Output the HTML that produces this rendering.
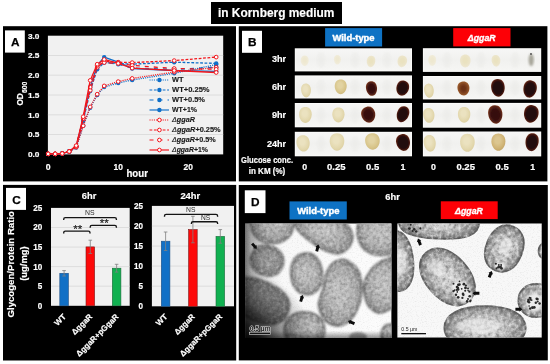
<!DOCTYPE html>
<html lang="en"><head><meta charset="utf-8"><title>in Kornberg medium</title>
<style>html,body{margin:0;padding:0;background:#fff;}body{width:550px;height:364px;overflow:hidden;}svg{display:block;}text{font-family:"Liberation Sans", sans-serif;}</style></head><body>
<svg width="550" height="364" viewBox="0 0 550 364">
<defs>
<filter id="b05" x="-20%" y="-20%" width="140%" height="140%"><feGaussianBlur stdDeviation="0.55"/></filter>
<filter id="b1" x="-20%" y="-20%" width="140%" height="140%"><feGaussianBlur stdDeviation="1"/></filter>
<filter id="b3" x="-30%" y="-30%" width="160%" height="160%"><feGaussianBlur stdDeviation="3"/></filter>
<filter id="cellF" x="-5%" y="-5%" width="110%" height="110%" color-interpolation-filters="sRGB">
  <feGaussianBlur in="SourceGraphic" stdDeviation="0.8" result="blur"/>
  <feTurbulence type="fractalNoise" baseFrequency="0.3" numOctaves="2" seed="4" result="n"/>
  <feColorMatrix in="n" type="matrix" values="1 0 0 0 0  1 0 0 0 0  1 0 0 0 0  1 0 0 0 0" result="g"/>
  <feComponentTransfer in="g" result="bw">
    <feFuncR type="discrete" tableValues="0.25 1"/><feFuncG type="discrete" tableValues="0.25 1"/><feFuncB type="discrete" tableValues="0.25 1"/>
    <feFuncA type="table" tableValues="0.42 0 0.5"/>
  </feComponentTransfer>
  <feComposite in="bw" in2="blur" operator="in" result="m"/>
  <feMerge><feMergeNode in="blur"/><feMergeNode in="m"/></feMerge>
</filter>
<filter id="cellF2" x="-5%" y="-5%" width="110%" height="110%" color-interpolation-filters="sRGB">
  <feGaussianBlur in="SourceGraphic" stdDeviation="0.7" result="blur"/>
  <feTurbulence type="fractalNoise" baseFrequency="0.26" numOctaves="3" seed="9" result="n"/>
  <feColorMatrix in="n" type="matrix" values="1 0 0 0 0  1 0 0 0 0  1 0 0 0 0  1 0 0 0 0" result="g"/>
  <feComponentTransfer in="g" result="bw">
    <feFuncR type="discrete" tableValues="0.3 1"/><feFuncG type="discrete" tableValues="0.3 1"/><feFuncB type="discrete" tableValues="0.3 1"/>
    <feFuncA type="table" tableValues="0.7 0 0.9"/>
  </feComponentTransfer>
  <feComposite in="bw" in2="blur" operator="in" result="m"/>
  <feMerge><feMergeNode in="blur"/><feMergeNode in="m"/></feMerge>
</filter>
<filter id="grain" x="0" y="0" width="100%" height="100%" color-interpolation-filters="sRGB">
  <feTurbulence type="fractalNoise" baseFrequency="0.8" numOctaves="2" seed="11" result="n"/>
  <feColorMatrix in="n" type="matrix" values="1 0 0 0 0  1 0 0 0 0  1 0 0 0 0  1 0 0 0 0" result="g"/>
  <feComponentTransfer in="g">
    <feFuncR type="discrete" tableValues="0 1"/><feFuncG type="discrete" tableValues="0 1"/><feFuncB type="discrete" tableValues="0 1"/>
    <feFuncA type="table" tableValues="0.09 0 0.05"/>
  </feComponentTransfer>
</filter>
<radialGradient id="cgL" cx="50%" cy="50%" r="50%"><stop offset="0" stop-color="#bebebe"/><stop offset="0.30" stop-color="#bebebe"/><stop offset="0.6" stop-color="#b2b2b2"/><stop offset="0.86" stop-color="#a0a0a0"/><stop offset="1" stop-color="#8a8a8a"/></radialGradient>
<radialGradient id="cgLd" cx="50%" cy="50%" r="50%"><stop offset="0" stop-color="#a2a2a2"/><stop offset="0.30" stop-color="#a2a2a2"/><stop offset="0.6" stop-color="#989898"/><stop offset="0.88" stop-color="#888888"/><stop offset="1" stop-color="#787878"/></radialGradient>
<radialGradient id="cgR" cx="50%" cy="50%" r="50%"><stop offset="0" stop-color="#d2d2d2"/><stop offset="0.28" stop-color="#d2d2d2"/><stop offset="0.55" stop-color="#bebebe"/><stop offset="0.85" stop-color="#9c9c9c"/><stop offset="1" stop-color="#7c7c7c"/></radialGradient>
<linearGradient id="bgL" x1="0" y1="0" x2="1" y2="0">
  <stop offset="0" stop-color="#e0e0e0"/><stop offset="0.18" stop-color="#f8f8f8"/><stop offset="1" stop-color="#fcfcfc"/>
</linearGradient>
<linearGradient id="vigL" x1="0" y1="0" x2="1" y2="0">
  <stop offset="0" stop-color="#000" stop-opacity="0.5"/><stop offset="0.04" stop-color="#000" stop-opacity="0.28"/><stop offset="0.12" stop-color="#000" stop-opacity="0.08"/><stop offset="0.25" stop-color="#000" stop-opacity="0"/>
</linearGradient>
<radialGradient id="vigBL" gradientUnits="userSpaceOnUse" cx="240" cy="346" r="75">
  <stop offset="0" stop-color="#000" stop-opacity="0.95"/><stop offset="0.3" stop-color="#000" stop-opacity="0.8"/><stop offset="0.6" stop-color="#000" stop-opacity="0.38"/><stop offset="1" stop-color="#000" stop-opacity="0"/>
</radialGradient>
<linearGradient id="vigB" x1="0" y1="0" x2="0" y2="1">
  <stop offset="0" stop-color="#000" stop-opacity="0"/><stop offset="0.93" stop-color="#000" stop-opacity="0"/><stop offset="1" stop-color="#000" stop-opacity="0.5"/>
</linearGradient>
<linearGradient id="strip" x1="0" y1="0" x2="0" y2="1">
  <stop offset="0" stop-color="#f6f6f5"/><stop offset="0.5" stop-color="#f1f1ef"/><stop offset="1" stop-color="#f6f6f4"/>
</linearGradient>
<radialGradient id="gDark" cx="50%" cy="50%" r="50%"><stop offset="0" stop-color="#341010"/><stop offset="0.60" stop-color="#381110"/><stop offset="0.9" stop-color="#5e2618"/><stop offset="1" stop-color="#7a3a22"/></radialGradient>
<radialGradient id="gVDark" cx="50%" cy="50%" r="50%"><stop offset="0" stop-color="#230808"/><stop offset="0.68" stop-color="#230808"/><stop offset="0.92" stop-color="#4a1a12"/><stop offset="1" stop-color="#6a2e1c"/></radialGradient>
<radialGradient id="gDBrown" cx="45%" cy="45%" r="60%"><stop offset="0" stop-color="#6a3026"/><stop offset="0.30" stop-color="#6a3026"/><stop offset="0.6" stop-color="#55211b"/><stop offset="1" stop-color="#3a1210"/></radialGradient>
<radialGradient id="gBrown" cx="50%" cy="50%" r="50%"><stop offset="0" stop-color="#6c3216"/><stop offset="0.30" stop-color="#6c3216"/><stop offset="0.6" stop-color="#7c401e"/><stop offset="1" stop-color="#9c5c2e"/></radialGradient>
<radialGradient id="gTan" cx="45%" cy="40%" r="60%"><stop offset="0" stop-color="#e2d3a2"/><stop offset="0.30" stop-color="#e2d3a2"/><stop offset="0.75" stop-color="#d8c58a"/><stop offset="1" stop-color="#d0bb80"/></radialGradient>
<radialGradient id="gTan2" cx="45%" cy="40%" r="60%"><stop offset="0" stop-color="#dcc690"/><stop offset="0.30" stop-color="#dcc690"/><stop offset="0.75" stop-color="#d0b476"/><stop offset="1" stop-color="#c4a668"/></radialGradient>
<radialGradient id="gCream" cx="45%" cy="40%" r="60%"><stop offset="0" stop-color="#ebe2c0"/><stop offset="0.30" stop-color="#ebe2c0"/><stop offset="0.75" stop-color="#e3d8ae"/><stop offset="1" stop-color="#ddd0a2"/></radialGradient>
<radialGradient id="gPale" cx="50%" cy="45%" r="60%"><stop offset="0" stop-color="#eee8d0"/><stop offset="0.30" stop-color="#eee8d0"/><stop offset="0.7" stop-color="#f0ebd8"/><stop offset="1" stop-color="#f2efe2"/></radialGradient>
<radialGradient id="gPale2" cx="50%" cy="45%" r="60%"><stop offset="0" stop-color="#eae2c0"/><stop offset="0.30" stop-color="#eae2c0"/><stop offset="0.7" stop-color="#ece5ca"/><stop offset="1" stop-color="#f0ead8"/></radialGradient>
<clipPath id="clipL"><rect x="245.1" y="223.4" width="146.3" height="114.7"/></clipPath>
<clipPath id="clipR"><rect x="397.4" y="223.6" width="144.3" height="114"/></clipPath>
</defs>
<rect width="550" height="364" fill="#fff"/>
<rect x="211" y="2" width="131" height="22" fill="#000"/>
<text x="276.2" y="17.1" font-size="12.4" fill="#fff" font-weight="bold" text-anchor="middle" stroke="#fff" stroke-width="0.18" textLength="116.5" lengthAdjust="spacingAndGlyphs" >in Kornberg medium</text>
<rect x="3" y="26.2" width="233" height="155.2" fill="#000"/>
<rect x="238.8" y="26.2" width="308.6" height="155.2" fill="#000"/>
<rect x="3" y="184.9" width="233.2" height="175.6" fill="#000"/>
<rect x="238.8" y="185.0" width="309" height="175.4" fill="#000"/>
<rect x="5" y="30.4" width="19.8" height="22.2" fill="#fff"/>
<text x="15.2" y="45.9" font-size="11.8" fill="#000" font-weight="bold" text-anchor="middle" stroke="#000" stroke-width="0.25">A</text>
<rect x="242" y="30.8" width="20.0" height="22.0" fill="#fff"/>
<text x="252.3" y="45.9" font-size="11.8" fill="#000" font-weight="bold" text-anchor="middle" stroke="#000" stroke-width="0.25">B</text>
<rect x="6" y="187.9" width="20.0" height="22.0" fill="#fff"/>
<text x="16.4" y="203.6" font-size="11.8" fill="#000" font-weight="bold" text-anchor="middle" stroke="#000" stroke-width="0.25">C</text>
<rect x="244.8" y="190.3" width="20.7" height="22.8" fill="#fff"/>
<text x="255.3" y="205.9" font-size="11.8" fill="#000" font-weight="bold" text-anchor="middle" stroke="#000" stroke-width="0.25">D</text>
<rect x="47.9" y="35.7" width="175.29999999999998" height="118.7" fill="#f1f1f1"/>
<line x1="47.9" x2="223.2" y1="134.5" y2="134.5" stroke="#d8d8d8" stroke-width="0.8"/>
<line x1="47.9" x2="223.2" y1="114.8" y2="114.8" stroke="#d8d8d8" stroke-width="0.8"/>
<line x1="47.9" x2="223.2" y1="95.0" y2="95.0" stroke="#d8d8d8" stroke-width="0.8"/>
<line x1="47.9" x2="223.2" y1="75.2" y2="75.2" stroke="#d8d8d8" stroke-width="0.8"/>
<line x1="47.9" x2="223.2" y1="55.5" y2="55.5" stroke="#d8d8d8" stroke-width="0.8"/>
<text x="33.7" y="157.2" font-size="8.0" fill="#fff" font-weight="bold" text-anchor="middle" stroke="#fff" stroke-width="0.18" textLength="11.5" lengthAdjust="spacingAndGlyphs" >0.0</text>
<text x="33.7" y="137.4" font-size="8.0" fill="#fff" font-weight="bold" text-anchor="middle" stroke="#fff" stroke-width="0.18" textLength="11.5" lengthAdjust="spacingAndGlyphs" >0.5</text>
<text x="33.7" y="117.7" font-size="8.0" fill="#fff" font-weight="bold" text-anchor="middle" stroke="#fff" stroke-width="0.18" textLength="11.5" lengthAdjust="spacingAndGlyphs" >1.0</text>
<text x="33.7" y="97.9" font-size="8.0" fill="#fff" font-weight="bold" text-anchor="middle" stroke="#fff" stroke-width="0.18" textLength="11.5" lengthAdjust="spacingAndGlyphs" >1.5</text>
<text x="33.7" y="78.1" font-size="8.0" fill="#fff" font-weight="bold" text-anchor="middle" stroke="#fff" stroke-width="0.18" textLength="11.5" lengthAdjust="spacingAndGlyphs" >2.0</text>
<text x="33.7" y="58.4" font-size="8.0" fill="#fff" font-weight="bold" text-anchor="middle" stroke="#fff" stroke-width="0.18" textLength="11.5" lengthAdjust="spacingAndGlyphs" >2.5</text>
<text x="33.7" y="38.6" font-size="8.0" fill="#fff" font-weight="bold" text-anchor="middle" stroke="#fff" stroke-width="0.18" textLength="11.5" lengthAdjust="spacingAndGlyphs" >3.0</text>
<text x="48.2" y="169.5" font-size="8.7" fill="#fff" font-weight="bold" text-anchor="middle" stroke="#fff" stroke-width="0.18" >0</text>
<text x="118.2" y="169.5" font-size="8.7" fill="#fff" font-weight="bold" text-anchor="middle" stroke="#fff" stroke-width="0.18" textLength="9.4" lengthAdjust="spacingAndGlyphs" >10</text>
<text x="188.2" y="169.5" font-size="8.7" fill="#fff" font-weight="bold" text-anchor="middle" stroke="#fff" stroke-width="0.18" textLength="9.4" lengthAdjust="spacingAndGlyphs" >20</text>
<text x="137.2" y="177.4" font-size="10.4" fill="#fff" font-weight="bold" text-anchor="middle" stroke="#fff" stroke-width="0.18" textLength="21.5" lengthAdjust="spacingAndGlyphs" >hour</text>
<text x="22.9" y="105.6" font-size="9.1" fill="#fff" font-weight="bold" text-anchor="start" stroke="#fff" stroke-width="0.18" textLength="12.4" lengthAdjust="spacingAndGlyphs" transform="rotate(-90 22.9 105.6)" >OD</text>
<text x="26.6" y="93.0" font-size="6.3" fill="#fff" font-weight="bold" text-anchor="start" stroke="#fff" stroke-width="0.18" textLength="11.4" lengthAdjust="spacingAndGlyphs" transform="rotate(-90 26.6 93.0)" >600</text>
<g>
<polyline points="48.2,153.9 55.2,153.9 62.2,153.5 69.2,151.5 76.2,147.6 83.2,125.8 90.2,107.7 97.2,95.0 104.2,87.1 118.2,83.1 132.2,80.0 174.2,73.3 216.2,64.6" fill="none" stroke="#0f6fc8" stroke-width="1.3" stroke-dasharray="1.1 1.1" stroke-linejoin="round"/>
<circle cx="48.2" cy="153.9" r="2.2" fill="#0f6fc8"/>
<circle cx="55.2" cy="153.9" r="2.2" fill="#0f6fc8"/>
<circle cx="62.2" cy="153.5" r="2.2" fill="#0f6fc8"/>
<circle cx="69.2" cy="151.5" r="2.2" fill="#0f6fc8"/>
<circle cx="76.2" cy="147.6" r="2.2" fill="#0f6fc8"/>
<circle cx="83.2" cy="125.8" r="2.2" fill="#0f6fc8"/>
<circle cx="90.2" cy="107.7" r="2.2" fill="#0f6fc8"/>
<circle cx="97.2" cy="95.0" r="2.2" fill="#0f6fc8"/>
<circle cx="104.2" cy="87.1" r="2.2" fill="#0f6fc8"/>
<circle cx="118.2" cy="83.1" r="2.2" fill="#0f6fc8"/>
<circle cx="132.2" cy="80.0" r="2.2" fill="#0f6fc8"/>
<circle cx="174.2" cy="73.3" r="2.2" fill="#0f6fc8"/>
<circle cx="216.2" cy="64.6" r="2.2" fill="#0f6fc8"/>
<polyline points="48.2,153.9 55.2,153.9 62.2,153.5 69.2,151.5 76.2,146.4 83.2,120.7 90.2,91.1 97.2,69.3 104.2,62.6 118.2,63.4 132.2,64.2 174.2,62.2 216.2,63.4" fill="none" stroke="#0f6fc8" stroke-width="1.3" stroke-dasharray="2.8 1.6" stroke-linejoin="round"/>
<circle cx="48.2" cy="153.9" r="2.2" fill="#0f6fc8"/>
<circle cx="55.2" cy="153.9" r="2.2" fill="#0f6fc8"/>
<circle cx="62.2" cy="153.5" r="2.2" fill="#0f6fc8"/>
<circle cx="69.2" cy="151.5" r="2.2" fill="#0f6fc8"/>
<circle cx="76.2" cy="146.4" r="2.2" fill="#0f6fc8"/>
<circle cx="83.2" cy="120.7" r="2.2" fill="#0f6fc8"/>
<circle cx="90.2" cy="91.1" r="2.2" fill="#0f6fc8"/>
<circle cx="97.2" cy="69.3" r="2.2" fill="#0f6fc8"/>
<circle cx="104.2" cy="62.6" r="2.2" fill="#0f6fc8"/>
<circle cx="118.2" cy="63.4" r="2.2" fill="#0f6fc8"/>
<circle cx="132.2" cy="64.2" r="2.2" fill="#0f6fc8"/>
<circle cx="174.2" cy="62.2" r="2.2" fill="#0f6fc8"/>
<circle cx="216.2" cy="63.4" r="2.2" fill="#0f6fc8"/>
<polyline points="48.2,153.9 55.2,153.9 62.2,153.5 69.2,151.5 76.2,146.4 83.2,118.7 90.2,89.1 97.2,67.3 104.2,62.2 118.2,64.2 132.2,68.1 174.2,69.3 216.2,67.3" fill="none" stroke="#0f6fc8" stroke-width="1.3" stroke-dasharray="4 5" stroke-linejoin="round"/>
<circle cx="48.2" cy="153.9" r="2.2" fill="#0f6fc8"/>
<circle cx="55.2" cy="153.9" r="2.2" fill="#0f6fc8"/>
<circle cx="62.2" cy="153.5" r="2.2" fill="#0f6fc8"/>
<circle cx="69.2" cy="151.5" r="2.2" fill="#0f6fc8"/>
<circle cx="76.2" cy="146.4" r="2.2" fill="#0f6fc8"/>
<circle cx="83.2" cy="118.7" r="2.2" fill="#0f6fc8"/>
<circle cx="90.2" cy="89.1" r="2.2" fill="#0f6fc8"/>
<circle cx="97.2" cy="67.3" r="2.2" fill="#0f6fc8"/>
<circle cx="104.2" cy="62.2" r="2.2" fill="#0f6fc8"/>
<circle cx="118.2" cy="64.2" r="2.2" fill="#0f6fc8"/>
<circle cx="132.2" cy="68.1" r="2.2" fill="#0f6fc8"/>
<circle cx="174.2" cy="69.3" r="2.2" fill="#0f6fc8"/>
<circle cx="216.2" cy="67.3" r="2.2" fill="#0f6fc8"/>
<polyline points="48.2,153.9 55.2,153.9 62.2,153.5 69.2,151.5 76.2,146.4 83.2,118.7 90.2,87.1 97.2,65.4 104.2,57.1 118.2,62.2 132.2,68.5 174.2,70.5 216.2,71.3" fill="none" stroke="#0f6fc8" stroke-width="1.3" stroke-linejoin="round"/>
<circle cx="48.2" cy="153.9" r="2.2" fill="#0f6fc8"/>
<circle cx="55.2" cy="153.9" r="2.2" fill="#0f6fc8"/>
<circle cx="62.2" cy="153.5" r="2.2" fill="#0f6fc8"/>
<circle cx="69.2" cy="151.5" r="2.2" fill="#0f6fc8"/>
<circle cx="76.2" cy="146.4" r="2.2" fill="#0f6fc8"/>
<circle cx="83.2" cy="118.7" r="2.2" fill="#0f6fc8"/>
<circle cx="90.2" cy="87.1" r="2.2" fill="#0f6fc8"/>
<circle cx="97.2" cy="65.4" r="2.2" fill="#0f6fc8"/>
<circle cx="104.2" cy="57.1" r="2.2" fill="#0f6fc8"/>
<circle cx="118.2" cy="62.2" r="2.2" fill="#0f6fc8"/>
<circle cx="132.2" cy="68.5" r="2.2" fill="#0f6fc8"/>
<circle cx="174.2" cy="70.5" r="2.2" fill="#0f6fc8"/>
<circle cx="216.2" cy="71.3" r="2.2" fill="#0f6fc8"/>
<polyline points="48.2,153.9 55.2,153.9 62.2,153.5 69.2,151.5 76.2,147.2 83.2,125.8 90.2,106.9 97.2,94.2 104.2,85.9 118.2,81.6 132.2,78.4 174.2,72.1 216.2,67.3" fill="none" stroke="#f2161c" stroke-width="1.3" stroke-dasharray="1.1 1.1" stroke-linejoin="round"/>
<circle cx="48.2" cy="153.9" r="1.85" fill="#fff" stroke="#f2161c" stroke-width="1"/>
<circle cx="55.2" cy="153.9" r="1.85" fill="#fff" stroke="#f2161c" stroke-width="1"/>
<circle cx="62.2" cy="153.5" r="1.85" fill="#fff" stroke="#f2161c" stroke-width="1"/>
<circle cx="69.2" cy="151.5" r="1.85" fill="#fff" stroke="#f2161c" stroke-width="1"/>
<circle cx="76.2" cy="147.2" r="1.85" fill="#fff" stroke="#f2161c" stroke-width="1"/>
<circle cx="83.2" cy="125.8" r="1.85" fill="#fff" stroke="#f2161c" stroke-width="1"/>
<circle cx="90.2" cy="106.9" r="1.85" fill="#fff" stroke="#f2161c" stroke-width="1"/>
<circle cx="97.2" cy="94.2" r="1.85" fill="#fff" stroke="#f2161c" stroke-width="1"/>
<circle cx="104.2" cy="85.9" r="1.85" fill="#fff" stroke="#f2161c" stroke-width="1"/>
<circle cx="118.2" cy="81.6" r="1.85" fill="#fff" stroke="#f2161c" stroke-width="1"/>
<circle cx="132.2" cy="78.4" r="1.85" fill="#fff" stroke="#f2161c" stroke-width="1"/>
<circle cx="174.2" cy="72.1" r="1.85" fill="#fff" stroke="#f2161c" stroke-width="1"/>
<circle cx="216.2" cy="67.3" r="1.85" fill="#fff" stroke="#f2161c" stroke-width="1"/>
<polyline points="48.2,153.9 55.2,153.9 62.2,153.5 69.2,151.5 76.2,146.4 83.2,117.9 90.2,90.3 97.2,67.3 104.2,61.4 118.2,62.2 132.2,62.6 174.2,60.6 216.2,57.1" fill="none" stroke="#f2161c" stroke-width="1.3" stroke-dasharray="2.8 1.6" stroke-linejoin="round"/>
<circle cx="48.2" cy="153.9" r="1.85" fill="#fff" stroke="#f2161c" stroke-width="1"/>
<circle cx="55.2" cy="153.9" r="1.85" fill="#fff" stroke="#f2161c" stroke-width="1"/>
<circle cx="62.2" cy="153.5" r="1.85" fill="#fff" stroke="#f2161c" stroke-width="1"/>
<circle cx="69.2" cy="151.5" r="1.85" fill="#fff" stroke="#f2161c" stroke-width="1"/>
<circle cx="76.2" cy="146.4" r="1.85" fill="#fff" stroke="#f2161c" stroke-width="1"/>
<circle cx="83.2" cy="117.9" r="1.85" fill="#fff" stroke="#f2161c" stroke-width="1"/>
<circle cx="90.2" cy="90.3" r="1.85" fill="#fff" stroke="#f2161c" stroke-width="1"/>
<circle cx="97.2" cy="67.3" r="1.85" fill="#fff" stroke="#f2161c" stroke-width="1"/>
<circle cx="104.2" cy="61.4" r="1.85" fill="#fff" stroke="#f2161c" stroke-width="1"/>
<circle cx="118.2" cy="62.2" r="1.85" fill="#fff" stroke="#f2161c" stroke-width="1"/>
<circle cx="132.2" cy="62.6" r="1.85" fill="#fff" stroke="#f2161c" stroke-width="1"/>
<circle cx="174.2" cy="60.6" r="1.85" fill="#fff" stroke="#f2161c" stroke-width="1"/>
<circle cx="216.2" cy="57.1" r="1.85" fill="#fff" stroke="#f2161c" stroke-width="1"/>
<polyline points="48.2,153.9 55.2,153.9 62.2,153.5 69.2,151.5 76.2,146.4 83.2,118.7 90.2,87.1 97.2,65.4 104.2,62.6 118.2,63.4 132.2,65.4 174.2,68.5 216.2,69.3" fill="none" stroke="#f2161c" stroke-width="1.3" stroke-dasharray="4 5" stroke-linejoin="round"/>
<circle cx="48.2" cy="153.9" r="1.85" fill="#fff" stroke="#f2161c" stroke-width="1"/>
<circle cx="55.2" cy="153.9" r="1.85" fill="#fff" stroke="#f2161c" stroke-width="1"/>
<circle cx="62.2" cy="153.5" r="1.85" fill="#fff" stroke="#f2161c" stroke-width="1"/>
<circle cx="69.2" cy="151.5" r="1.85" fill="#fff" stroke="#f2161c" stroke-width="1"/>
<circle cx="76.2" cy="146.4" r="1.85" fill="#fff" stroke="#f2161c" stroke-width="1"/>
<circle cx="83.2" cy="118.7" r="1.85" fill="#fff" stroke="#f2161c" stroke-width="1"/>
<circle cx="90.2" cy="87.1" r="1.85" fill="#fff" stroke="#f2161c" stroke-width="1"/>
<circle cx="97.2" cy="65.4" r="1.85" fill="#fff" stroke="#f2161c" stroke-width="1"/>
<circle cx="104.2" cy="62.6" r="1.85" fill="#fff" stroke="#f2161c" stroke-width="1"/>
<circle cx="118.2" cy="63.4" r="1.85" fill="#fff" stroke="#f2161c" stroke-width="1"/>
<circle cx="132.2" cy="65.4" r="1.85" fill="#fff" stroke="#f2161c" stroke-width="1"/>
<circle cx="174.2" cy="68.5" r="1.85" fill="#fff" stroke="#f2161c" stroke-width="1"/>
<circle cx="216.2" cy="69.3" r="1.85" fill="#fff" stroke="#f2161c" stroke-width="1"/>
<polyline points="48.2,153.9 55.2,153.9 62.2,153.5 69.2,151.5 76.2,145.6 83.2,116.7 90.2,80.4 97.2,64.2 104.2,59.4 118.2,63.4 132.2,68.1 174.2,70.5 216.2,72.5" fill="none" stroke="#f2161c" stroke-width="1.3" stroke-linejoin="round"/>
<circle cx="48.2" cy="153.9" r="1.85" fill="#fff" stroke="#f2161c" stroke-width="1"/>
<circle cx="55.2" cy="153.9" r="1.85" fill="#fff" stroke="#f2161c" stroke-width="1"/>
<circle cx="62.2" cy="153.5" r="1.85" fill="#fff" stroke="#f2161c" stroke-width="1"/>
<circle cx="69.2" cy="151.5" r="1.85" fill="#fff" stroke="#f2161c" stroke-width="1"/>
<circle cx="76.2" cy="145.6" r="1.85" fill="#fff" stroke="#f2161c" stroke-width="1"/>
<circle cx="83.2" cy="116.7" r="1.85" fill="#fff" stroke="#f2161c" stroke-width="1"/>
<circle cx="90.2" cy="80.4" r="1.85" fill="#fff" stroke="#f2161c" stroke-width="1"/>
<circle cx="97.2" cy="64.2" r="1.85" fill="#fff" stroke="#f2161c" stroke-width="1"/>
<circle cx="104.2" cy="59.4" r="1.85" fill="#fff" stroke="#f2161c" stroke-width="1"/>
<circle cx="118.2" cy="63.4" r="1.85" fill="#fff" stroke="#f2161c" stroke-width="1"/>
<circle cx="132.2" cy="68.1" r="1.85" fill="#fff" stroke="#f2161c" stroke-width="1"/>
<circle cx="174.2" cy="70.5" r="1.85" fill="#fff" stroke="#f2161c" stroke-width="1"/>
<circle cx="216.2" cy="72.5" r="1.85" fill="#fff" stroke="#f2161c" stroke-width="1"/>
</g>
<line x1="149.5" x2="169.0" y1="80.0" y2="80.0" stroke="#0f6fc8" stroke-width="1.15" stroke-dasharray="1.1 1.1"/>
<circle cx="159.4" cy="80.0" r="2.2" fill="#0f6fc8"/>
<text x="172" y="82.1" font-size="7.8" fill="#1c1c1c" font-weight="bold" text-anchor="start" textLength="11.5" lengthAdjust="spacingAndGlyphs" stroke="#1c1c1c" stroke-width="0.15">WT</text>
<line x1="149.5" x2="169.0" y1="90.0" y2="90.0" stroke="#0f6fc8" stroke-width="1.15" stroke-dasharray="2.8 1.6"/>
<circle cx="159.4" cy="90.0" r="2.2" fill="#0f6fc8"/>
<text x="172" y="92.1" font-size="7.8" fill="#1c1c1c" font-weight="bold" text-anchor="start" textLength="37.6" lengthAdjust="spacingAndGlyphs" stroke="#1c1c1c" stroke-width="0.15">WT+0.25%</text>
<line x1="149.5" x2="169.0" y1="100.0" y2="100.0" stroke="#0f6fc8" stroke-width="1.15" stroke-dasharray="4 5"/>
<circle cx="159.4" cy="100.0" r="2.2" fill="#0f6fc8"/>
<text x="172" y="102.1" font-size="7.8" fill="#1c1c1c" font-weight="bold" text-anchor="start" textLength="33" lengthAdjust="spacingAndGlyphs" stroke="#1c1c1c" stroke-width="0.15">WT+0.5%</text>
<line x1="149.5" x2="169.0" y1="110.0" y2="110.0" stroke="#0f6fc8" stroke-width="1.15"/>
<circle cx="159.4" cy="110.0" r="2.2" fill="#0f6fc8"/>
<text x="172" y="112.1" font-size="7.8" fill="#1c1c1c" font-weight="bold" text-anchor="start" textLength="25" lengthAdjust="spacingAndGlyphs" stroke="#1c1c1c" stroke-width="0.15">WT+1%</text>
<line x1="149.5" x2="169.0" y1="120.0" y2="120.0" stroke="#f2161c" stroke-width="1.15" stroke-dasharray="1.1 1.1"/>
<circle cx="159.4" cy="120.0" r="1.85" fill="#fff" stroke="#f2161c" stroke-width="1"/>
<text x="172" y="122.1" font-size="7.8" fill="#1c1c1c" font-weight="bold" text-anchor="start" textLength="23" lengthAdjust="spacingAndGlyphs" stroke="#1c1c1c" stroke-width="0.15"><tspan font-style="italic" font-weight="normal">Δ</tspan><tspan font-style="italic">ggaR</tspan></text>
<line x1="149.5" x2="169.0" y1="130.0" y2="130.0" stroke="#f2161c" stroke-width="1.15" stroke-dasharray="2.8 1.6"/>
<circle cx="159.4" cy="130.0" r="1.85" fill="#fff" stroke="#f2161c" stroke-width="1"/>
<text x="172" y="132.1" font-size="7.8" fill="#1c1c1c" font-weight="bold" text-anchor="start" textLength="48.6" lengthAdjust="spacingAndGlyphs" stroke="#1c1c1c" stroke-width="0.15"><tspan font-style="italic" font-weight="normal">Δ</tspan><tspan font-style="italic">ggaR</tspan>+0.25%</text>
<line x1="149.5" x2="169.0" y1="140.0" y2="140.0" stroke="#f2161c" stroke-width="1.15" stroke-dasharray="4 5"/>
<circle cx="159.4" cy="140.0" r="1.85" fill="#fff" stroke="#f2161c" stroke-width="1"/>
<text x="172" y="142.1" font-size="7.8" fill="#1c1c1c" font-weight="bold" text-anchor="start" textLength="43.6" lengthAdjust="spacingAndGlyphs" stroke="#1c1c1c" stroke-width="0.15"><tspan font-style="italic" font-weight="normal">Δ</tspan><tspan font-style="italic">ggaR</tspan>+0.5%</text>
<line x1="149.5" x2="169.0" y1="150.0" y2="150.0" stroke="#f2161c" stroke-width="1.15"/>
<circle cx="159.4" cy="150.0" r="1.85" fill="#fff" stroke="#f2161c" stroke-width="1"/>
<text x="172" y="152.1" font-size="7.8" fill="#1c1c1c" font-weight="bold" text-anchor="start" textLength="36" lengthAdjust="spacingAndGlyphs" stroke="#1c1c1c" stroke-width="0.15"><tspan font-style="italic" font-weight="normal">Δ</tspan><tspan font-style="italic">ggaR</tspan>+1%</text>
<rect x="325.1" y="28.1" width="57" height="18.4" fill="#0e72c4"/>
<text x="353.5" y="40.5" font-size="9.4" fill="#fff" font-weight="bold" text-anchor="middle" textLength="42.2" lengthAdjust="spacingAndGlyphs" stroke="#fff" stroke-width="0.45">Wild-type</text>
<rect x="453.2" y="28.1" width="57.3" height="18.3" fill="#fd0006"/>
<text x="481.7" y="40.5" font-size="8.8" fill="#fff" font-weight="bold" text-anchor="middle" font-style="italic" textLength="27.8" lengthAdjust="spacingAndGlyphs" stroke="#fff" stroke-width="0.35">ΔggaR</text>
<rect x="294.8" y="48.3" width="117.2" height="23.1" fill="#fcfcfb"/>
<rect x="295.6" y="49.199999999999996" width="115.6" height="21.3" fill="url(#strip)"/>
<rect x="294.8" y="75.4" width="117.2" height="23.1" fill="#fcfcfb"/>
<rect x="295.6" y="76.30000000000001" width="115.6" height="21.3" fill="url(#strip)"/>
<rect x="294.8" y="103.0" width="117.2" height="24.3" fill="#fcfcfb"/>
<rect x="295.6" y="103.9" width="115.6" height="22.5" fill="url(#strip)"/>
<rect x="294.8" y="131.8" width="117.2" height="24.5" fill="#fcfcfb"/>
<rect x="295.6" y="132.70000000000002" width="115.6" height="22.7" fill="url(#strip)"/>
<rect x="422.9" y="48.2" width="118.3" height="23.7" fill="#fcfcfb"/>
<rect x="423.7" y="49.1" width="116.7" height="21.9" fill="url(#strip)"/>
<rect x="422.9" y="76.0" width="118.3" height="23.4" fill="#fcfcfb"/>
<rect x="423.7" y="76.9" width="116.7" height="21.6" fill="url(#strip)"/>
<rect x="422.9" y="102.9" width="118.3" height="24.8" fill="#fcfcfb"/>
<rect x="423.7" y="103.80000000000001" width="116.7" height="23.0" fill="url(#strip)"/>
<rect x="422.9" y="131.5" width="118.3" height="24.9" fill="#fcfcfb"/>
<rect x="423.7" y="132.4" width="116.7" height="23.1" fill="url(#strip)"/>
<g filter="url(#b1)" fill="#e8e8e5" opacity="0.4">
<ellipse cx="321" cy="59.9" rx="4.5" ry="8"/>
<ellipse cx="355" cy="59.9" rx="4.5" ry="8"/>
<ellipse cx="387" cy="59.9" rx="4.5" ry="8"/>
<ellipse cx="321" cy="87.0" rx="4.5" ry="8"/>
<ellipse cx="355" cy="87.0" rx="4.5" ry="8"/>
<ellipse cx="387" cy="87.0" rx="4.5" ry="8"/>
<ellipse cx="321" cy="115.2" rx="4.5" ry="8"/>
<ellipse cx="355" cy="115.2" rx="4.5" ry="8"/>
<ellipse cx="387" cy="115.2" rx="4.5" ry="8"/>
<ellipse cx="321" cy="144.1" rx="4.5" ry="8"/>
<ellipse cx="355" cy="144.1" rx="4.5" ry="8"/>
<ellipse cx="387" cy="144.1" rx="4.5" ry="8"/>
<ellipse cx="447" cy="60.1" rx="4.5" ry="8"/>
<ellipse cx="481" cy="60.1" rx="4.5" ry="8"/>
<ellipse cx="515" cy="60.1" rx="4.5" ry="8"/>
<ellipse cx="447" cy="87.7" rx="4.5" ry="8"/>
<ellipse cx="481" cy="87.7" rx="4.5" ry="8"/>
<ellipse cx="515" cy="87.7" rx="4.5" ry="8"/>
<ellipse cx="447" cy="115.3" rx="4.5" ry="8"/>
<ellipse cx="481" cy="115.3" rx="4.5" ry="8"/>
<ellipse cx="515" cy="115.3" rx="4.5" ry="8"/>
<ellipse cx="447" cy="143.9" rx="4.5" ry="8"/>
<ellipse cx="481" cy="143.9" rx="4.5" ry="8"/>
<ellipse cx="515" cy="143.9" rx="4.5" ry="8"/>
</g>
<text x="286.1" y="62.1" font-size="8.9" fill="#fff" font-weight="bold" text-anchor="end" stroke="#fff" stroke-width="0.18" textLength="14.2" lengthAdjust="spacingAndGlyphs" >3hr</text>
<text x="286.1" y="90.2" font-size="8.9" fill="#fff" font-weight="bold" text-anchor="end" stroke="#fff" stroke-width="0.18" textLength="14.2" lengthAdjust="spacingAndGlyphs" >6hr</text>
<text x="286.1" y="118.0" font-size="8.9" fill="#fff" font-weight="bold" text-anchor="end" stroke="#fff" stroke-width="0.18" textLength="14.2" lengthAdjust="spacingAndGlyphs" >9hr</text>
<text x="286.1" y="147.3" font-size="8.9" fill="#fff" font-weight="bold" text-anchor="end" stroke="#fff" stroke-width="0.18" textLength="19.1" lengthAdjust="spacingAndGlyphs" >24hr</text>
<text x="267" y="163.4" font-size="8.5" fill="#fff" font-weight="bold" text-anchor="middle" stroke="#fff" stroke-width="0.18" textLength="52" lengthAdjust="spacingAndGlyphs" >Glucose conc.</text>
<text x="267" y="174.3" font-size="8.5" fill="#fff" font-weight="bold" text-anchor="middle" stroke="#fff" stroke-width="0.18" textLength="36.5" lengthAdjust="spacingAndGlyphs" >in KM (%)</text>
<text x="304.7" y="169.6" font-size="8.8" fill="#fff" font-weight="bold" text-anchor="middle" stroke="#fff" stroke-width="0.18" >0</text>
<text x="336.3" y="169.6" font-size="8.8" fill="#fff" font-weight="bold" text-anchor="middle" stroke="#fff" stroke-width="0.18" textLength="18.5" lengthAdjust="spacingAndGlyphs" >0.25</text>
<text x="372.6" y="169.6" font-size="8.8" fill="#fff" font-weight="bold" text-anchor="middle" stroke="#fff" stroke-width="0.18" textLength="13.2" lengthAdjust="spacingAndGlyphs" >0.5</text>
<text x="403" y="169.6" font-size="8.8" fill="#fff" font-weight="bold" text-anchor="middle" stroke="#fff" stroke-width="0.18" >1</text>
<text x="433.5" y="169.6" font-size="8.8" fill="#fff" font-weight="bold" text-anchor="middle" stroke="#fff" stroke-width="0.18" >0</text>
<text x="465.7" y="169.6" font-size="8.8" fill="#fff" font-weight="bold" text-anchor="middle" stroke="#fff" stroke-width="0.18" textLength="18.5" lengthAdjust="spacingAndGlyphs" >0.25</text>
<text x="502.2" y="169.6" font-size="8.8" fill="#fff" font-weight="bold" text-anchor="middle" stroke="#fff" stroke-width="0.18" textLength="13.2" lengthAdjust="spacingAndGlyphs" >0.5</text>
<text x="532.6" y="169.6" font-size="8.8" fill="#fff" font-weight="bold" text-anchor="middle" stroke="#fff" stroke-width="0.18" >1</text>
<ellipse cx="531.2" cy="60" rx="2.6" ry="6.2" fill="#8f8d7e" opacity="0.75" filter="url(#b1)"/>
<ellipse cx="531" cy="54" rx="0.9" ry="1" fill="#444"/>
<g filter="url(#b05)">
<path d="M-4.0 -0.5C-4.0 -3.5 -2.4 -5.3 0 -5.3C2.4 -5.3 4.0 -3.5 4.0 -0.5C4.0 2.6 2.1 5.3 0 5.3C-2.1 5.3 -4.0 2.6 -4.0 -0.5Z" fill="url(#gPale)" transform="translate(304.7 60.7) rotate(0)"/>
<path d="M-3.5 -0.5C-3.5 -3.2 -2.1 -4.8 0 -4.8C2.1 -4.8 3.5 -3.2 3.5 -0.5C3.5 2.4 1.8 4.8 0 4.8C-1.8 4.8 -3.5 2.4 -3.5 -0.5Z" fill="url(#gPale)" transform="translate(337.4 59.8) rotate(0)"/>
<path d="M-4.3 -0.6C-4.3 -3.8 -2.6 -5.7 0 -5.7C2.6 -5.7 4.3 -3.8 4.3 -0.6C4.3 2.9 2.2 5.7 0 5.7C-2.2 5.7 -4.3 2.9 -4.3 -0.6Z" fill="url(#gPale2)" transform="translate(371.0 61.5) rotate(8)"/>
<path d="M-4.8 -0.6C-4.8 -3.9 -2.9 -5.9 0 -5.9C2.9 -5.9 4.8 -3.9 4.8 -0.6C4.8 3.0 2.5 5.9 0 5.9C-2.5 5.9 -4.8 3.0 -4.8 -0.6Z" fill="url(#gPale2)" transform="translate(402.2 61.4) rotate(12)"/>
<path d="M-4.9 -0.7C-4.9 -4.6 -2.9 -7.0 0 -7.0C2.9 -7.0 4.9 -4.6 4.9 -0.7C4.9 3.5 2.5 7.0 0 7.0C-2.5 7.0 -4.9 3.5 -4.9 -0.7Z" fill="url(#gCream)" transform="translate(306.1 90.4) rotate(-5)"/>
<path d="M-6.0 -0.7C-6.0 -4.9 -3.6 -7.4 0 -7.4C3.6 -7.4 6.0 -4.9 6.0 -0.7C6.0 3.7 3.1 7.4 0 7.4C-3.1 7.4 -6.0 3.7 -6.0 -0.7Z" fill="url(#gTan)" transform="translate(340.7 86.8) rotate(0)"/>
<path d="M-5.5 -0.7C-5.5 -4.8 -3.3 -7.3 0 -7.3C3.3 -7.3 5.5 -4.8 5.5 -0.7C5.5 3.6 2.9 7.3 0 7.3C-2.9 7.3 -5.5 3.6 -5.5 -0.7Z" fill="url(#gDark)" transform="translate(371.6 88.6) rotate(-8)"/>
<path d="M-6.3 -0.8C-6.3 -5.1 -3.8 -7.7 0 -7.7C3.8 -7.7 6.3 -5.1 6.3 -0.8C6.3 3.9 3.3 7.7 0 7.7C-3.3 7.7 -6.3 3.9 -6.3 -0.8Z" fill="url(#gVDark)" transform="translate(402.6 88.1) rotate(15)"/>
<path d="M-6.3 -0.8C-6.3 -5.2 -3.8 -7.9 0 -7.9C3.8 -7.9 6.3 -5.2 6.3 -0.8C6.3 4.0 3.3 7.9 0 7.9C-3.3 7.9 -6.3 4.0 -6.3 -0.8Z" fill="url(#gCream)" transform="translate(305.4 115.0) rotate(0)"/>
<path d="M-6.1 -0.7C-6.1 -4.9 -3.7 -7.4 0 -7.4C3.7 -7.4 6.1 -4.9 6.1 -0.7C6.1 3.7 3.2 7.4 0 7.4C-3.2 7.4 -6.1 3.7 -6.1 -0.7Z" fill="url(#gCream)" transform="translate(338.4 115.0) rotate(0)"/>
<path d="M-7.0 -0.8C-7.0 -5.3 -4.2 -8.1 0 -8.1C4.2 -8.1 7.0 -5.3 7.0 -0.8C7.0 4.0 3.6 8.1 0 8.1C-3.6 8.1 -7.0 4.0 -7.0 -0.8Z" fill="url(#gDark)" transform="translate(368.4 114.7) rotate(-15)"/>
<path d="M-6.0 -0.8C-6.0 -5.4 -3.6 -8.2 0 -8.2C3.6 -8.2 6.0 -5.4 6.0 -0.8C6.0 4.1 3.1 8.2 0 8.2C-3.1 8.2 -6.0 4.1 -6.0 -0.8Z" fill="url(#gVDark)" transform="translate(402.8 114.3) rotate(20)"/>
<path d="M-6.6 -0.8C-6.6 -5.4 -4.0 -8.2 0 -8.2C4.0 -8.2 6.6 -5.4 6.6 -0.8C6.6 4.1 3.4 8.2 0 8.2C-3.4 8.2 -6.6 4.1 -6.6 -0.8Z" fill="url(#gCream)" transform="translate(303.2 143.4) rotate(-8)"/>
<path d="M-7.3 -0.9C-7.3 -5.8 -4.4 -8.8 0 -8.8C4.4 -8.8 7.3 -5.8 7.3 -0.9C7.3 4.4 3.8 8.8 0 8.8C-3.8 8.8 -7.3 4.4 -7.3 -0.9Z" fill="url(#gCream)" transform="translate(337.0 142.0) rotate(0)"/>
<path d="M-7.3 -0.8C-7.3 -5.4 -4.4 -8.2 0 -8.2C4.4 -8.2 7.3 -5.4 7.3 -0.8C7.3 4.1 3.8 8.2 0 8.2C-3.8 8.2 -7.3 4.1 -7.3 -0.8Z" fill="url(#gTan)" transform="translate(372.5 141.5) rotate(-5)"/>
<path d="M-6.9 -0.9C-6.9 -5.6 -4.1 -8.5 0 -8.5C4.1 -8.5 6.9 -5.6 6.9 -0.9C6.9 4.2 3.6 8.5 0 8.5C-3.6 8.5 -6.9 4.2 -6.9 -0.9Z" fill="url(#gVDark)" transform="translate(403.2 142.5) rotate(-12)"/>
<path d="M-4.0 -0.5C-4.0 -3.6 -2.4 -5.4 0 -5.4C2.4 -5.4 4.0 -3.6 4.0 -0.5C4.0 2.7 2.1 5.4 0 5.4C-2.1 5.4 -4.0 2.7 -4.0 -0.5Z" fill="url(#gPale)" transform="translate(432.2 60.5) rotate(0)"/>
<path d="M-5.3 -0.6C-5.3 -4.2 -3.2 -6.4 0 -6.4C3.2 -6.4 5.3 -4.2 5.3 -0.6C5.3 3.2 2.8 6.4 0 6.4C-2.8 6.4 -5.3 3.2 -5.3 -0.6Z" fill="url(#gPale2)" transform="translate(465.3 61) rotate(0)"/>
<path d="M-4.4 -0.6C-4.4 -3.9 -2.6 -5.9 0 -5.9C2.6 -5.9 4.4 -3.9 4.4 -0.6C4.4 3.0 2.3 5.9 0 5.9C-2.3 5.9 -4.4 3.0 -4.4 -0.6Z" fill="url(#gPale2)" transform="translate(496 60.8) rotate(-8)"/>
<path d="M-4.8 -0.7C-4.8 -4.7 -2.9 -7.1 0 -7.1C2.9 -7.1 4.8 -4.7 4.8 -0.7C4.8 3.5 2.5 7.1 0 7.1C-2.5 7.1 -4.8 3.5 -4.8 -0.7Z" fill="url(#gCream)" transform="translate(429.0 90.7) rotate(-8)"/>
<path d="M-6.0 -0.7C-6.0 -4.7 -3.6 -7.1 0 -7.1C3.6 -7.1 6.0 -4.7 6.0 -0.7C6.0 3.5 3.1 7.1 0 7.1C-3.1 7.1 -6.0 3.5 -6.0 -0.7Z" fill="url(#gBrown)" transform="translate(463.5 88.5) rotate(-5)"/>
<path d="M-6.8 -0.9C-6.8 -5.9 -4.1 -8.9 0 -8.9C4.1 -8.9 6.8 -5.9 6.8 -0.9C6.8 4.5 3.5 8.9 0 8.9C-3.5 8.9 -6.8 4.5 -6.8 -0.9Z" fill="url(#gVDark)" transform="translate(498.0 87.9) rotate(-5)"/>
<path d="M-6.7 -0.9C-6.7 -5.7 -4.0 -8.7 0 -8.7C4.0 -8.7 6.7 -5.7 6.7 -0.9C6.7 4.3 3.5 8.7 0 8.7C-3.5 8.7 -6.7 4.3 -6.7 -0.9Z" fill="url(#gVDark)" transform="translate(530.0 89.0) rotate(10)"/>
<path d="M-5.6 -0.8C-5.6 -5.0 -3.4 -7.5 0 -7.5C3.4 -7.5 5.6 -5.0 5.6 -0.8C5.6 3.8 2.9 7.5 0 7.5C-2.9 7.5 -5.6 3.8 -5.6 -0.8Z" fill="url(#gCream)" transform="translate(428.9 115.4) rotate(-8)"/>
<path d="M-6.2 -0.8C-6.2 -5.2 -3.7 -7.9 0 -7.9C3.7 -7.9 6.2 -5.2 6.2 -0.8C6.2 4.0 3.2 7.9 0 7.9C-3.2 7.9 -6.2 4.0 -6.2 -0.8Z" fill="url(#gCream)" transform="translate(464.1 114.9) rotate(0)"/>
<path d="M-7.1 -0.9C-7.1 -6.1 -4.3 -9.3 0 -9.3C4.3 -9.3 7.1 -6.1 7.1 -0.9C7.1 4.7 3.7 9.3 0 9.3C-3.7 9.3 -7.1 4.7 -7.1 -0.9Z" fill="url(#gDark)" transform="translate(495.4 114.5) rotate(-8)"/>
<path d="M-7.3 -0.9C-7.3 -5.9 -4.4 -8.9 0 -8.9C4.4 -8.9 7.3 -5.9 7.3 -0.9C7.3 4.5 3.8 8.9 0 8.9C-3.8 8.9 -7.3 4.5 -7.3 -0.9Z" fill="url(#gVDark)" transform="translate(531.2 113.9) rotate(10)"/>
<path d="M-6.0 -0.8C-6.0 -5.5 -3.6 -8.4 0 -8.4C3.6 -8.4 6.0 -5.5 6.0 -0.8C6.0 4.2 3.1 8.4 0 8.4C-3.1 8.4 -6.0 4.2 -6.0 -0.8Z" fill="url(#gCream)" transform="translate(429.8 143.3) rotate(-8)"/>
<path d="M-7.3 -0.9C-7.3 -5.9 -4.4 -9.0 0 -9.0C4.4 -9.0 7.3 -5.9 7.3 -0.9C7.3 4.5 3.8 9.0 0 9.0C-3.8 9.0 -7.3 4.5 -7.3 -0.9Z" fill="url(#gCream)" transform="translate(467.4 142.8) rotate(0)"/>
<path d="M-7.0 -0.9C-7.0 -5.7 -4.2 -8.7 0 -8.7C4.2 -8.7 7.0 -5.7 7.0 -0.9C7.0 4.3 3.6 8.7 0 8.7C-3.6 8.7 -7.0 4.3 -7.0 -0.9Z" fill="url(#gTan2)" transform="translate(498.4 142.1) rotate(0)"/>
<path d="M-6.6 -0.9C-6.6 -5.9 -4.0 -9.0 0 -9.0C4.0 -9.0 6.6 -5.9 6.6 -0.9C6.6 4.5 3.4 9.0 0 9.0C-3.4 9.0 -6.6 4.5 -6.6 -0.9Z" fill="url(#gVDark)" transform="translate(532 142.2) rotate(8)"/>
</g>
<rect x="51.0" y="207.9" width="78.7" height="97.9" fill="#f1f1f1"/>
<line x1="51.0" x2="129.7" y1="286.2" y2="286.2" stroke="#d8d8d8" stroke-width="0.8"/>
<line x1="51.0" x2="129.7" y1="266.6" y2="266.6" stroke="#d8d8d8" stroke-width="0.8"/>
<line x1="51.0" x2="129.7" y1="247.1" y2="247.1" stroke="#d8d8d8" stroke-width="0.8"/>
<line x1="51.0" x2="129.7" y1="227.5" y2="227.5" stroke="#d8d8d8" stroke-width="0.8"/>
<text x="42.2" y="308.7" font-size="8.6" fill="#fff" font-weight="bold" text-anchor="end" stroke="#fff" stroke-width="0.18" textLength="4.5" lengthAdjust="spacingAndGlyphs" >0</text>
<text x="42.2" y="289.1" font-size="8.6" fill="#fff" font-weight="bold" text-anchor="end" stroke="#fff" stroke-width="0.18" textLength="4.5" lengthAdjust="spacingAndGlyphs" >5</text>
<text x="42.2" y="269.5" font-size="8.6" fill="#fff" font-weight="bold" text-anchor="end" stroke="#fff" stroke-width="0.18" textLength="9.0" lengthAdjust="spacingAndGlyphs" >10</text>
<text x="42.2" y="250.0" font-size="8.6" fill="#fff" font-weight="bold" text-anchor="end" stroke="#fff" stroke-width="0.18" textLength="9.0" lengthAdjust="spacingAndGlyphs" >15</text>
<text x="42.2" y="230.4" font-size="8.6" fill="#fff" font-weight="bold" text-anchor="end" stroke="#fff" stroke-width="0.18" textLength="9.0" lengthAdjust="spacingAndGlyphs" >20</text>
<text x="42.2" y="210.8" font-size="8.6" fill="#fff" font-weight="bold" text-anchor="end" stroke="#fff" stroke-width="0.18" textLength="9.0" lengthAdjust="spacingAndGlyphs" >25</text>
<rect x="59.8" y="273.3" width="8.6" height="32.5" fill="#1170c6" stroke="#1d4f86" stroke-width="0.6"/>
<path d="M64.1 270.6V276.0M62.3 270.6h3.6M62.3 276.0h3.6" stroke="#808080" stroke-width="0.8" fill="none"/>
<rect x="86.0" y="246.9" width="8.6" height="58.9" fill="#fd0a0a" stroke="#7a1a1a" stroke-width="0.6"/>
<path d="M90.3 240.2V253.5M88.5 240.2h3.6M88.5 253.5h3.6" stroke="#808080" stroke-width="0.8" fill="none"/>
<rect x="112.3" y="268.2" width="8.6" height="37.6" fill="#10b050" stroke="#1c6a3a" stroke-width="0.6"/>
<path d="M116.6 264.3V272.1M114.8 264.3h3.6M114.8 272.1h3.6" stroke="#808080" stroke-width="0.8" fill="none"/>
<rect x="151.9" y="205.9" width="82.1" height="100.4" fill="#f1f1f1"/>
<line x1="151.9" x2="234.0" y1="286.2" y2="286.2" stroke="#d8d8d8" stroke-width="0.8"/>
<line x1="151.9" x2="234.0" y1="266.1" y2="266.1" stroke="#d8d8d8" stroke-width="0.8"/>
<line x1="151.9" x2="234.0" y1="246.1" y2="246.1" stroke="#d8d8d8" stroke-width="0.8"/>
<line x1="151.9" x2="234.0" y1="226.0" y2="226.0" stroke="#d8d8d8" stroke-width="0.8"/>
<text x="143.0" y="309.2" font-size="8.6" fill="#fff" font-weight="bold" text-anchor="end" stroke="#fff" stroke-width="0.18" textLength="4.5" lengthAdjust="spacingAndGlyphs" >0</text>
<text x="143.0" y="289.1" font-size="8.6" fill="#fff" font-weight="bold" text-anchor="end" stroke="#fff" stroke-width="0.18" textLength="4.5" lengthAdjust="spacingAndGlyphs" >5</text>
<text x="143.0" y="269.0" font-size="8.6" fill="#fff" font-weight="bold" text-anchor="end" stroke="#fff" stroke-width="0.18" textLength="9.0" lengthAdjust="spacingAndGlyphs" >10</text>
<text x="143.0" y="249.0" font-size="8.6" fill="#fff" font-weight="bold" text-anchor="end" stroke="#fff" stroke-width="0.18" textLength="9.0" lengthAdjust="spacingAndGlyphs" >15</text>
<text x="143.0" y="228.9" font-size="8.6" fill="#fff" font-weight="bold" text-anchor="end" stroke="#fff" stroke-width="0.18" textLength="9.0" lengthAdjust="spacingAndGlyphs" >20</text>
<text x="143.0" y="208.8" font-size="8.6" fill="#fff" font-weight="bold" text-anchor="end" stroke="#fff" stroke-width="0.18" textLength="9.0" lengthAdjust="spacingAndGlyphs" >25</text>
<rect x="161.3" y="241.2" width="8.6" height="65.1" fill="#1170c6" stroke="#1d4f86" stroke-width="0.6"/>
<path d="M165.6 232.0V250.5M163.8 232.0h3.6M163.8 250.5h3.6" stroke="#808080" stroke-width="0.8" fill="none"/>
<rect x="188.6" y="229.6" width="8.6" height="76.7" fill="#fd0a0a" stroke="#7a1a1a" stroke-width="0.6"/>
<path d="M192.9 216.3V242.8M191.1 216.3h3.6M191.1 242.8h3.6" stroke="#808080" stroke-width="0.8" fill="none"/>
<rect x="216.0" y="236.4" width="8.6" height="69.9" fill="#10b050" stroke="#1c6a3a" stroke-width="0.6"/>
<path d="M220.3 229.6V243.2M218.5 229.6h3.6M218.5 243.2h3.6" stroke="#808080" stroke-width="0.8" fill="none"/>
<text x="89.1" y="199.1" font-size="9.8" fill="#fff" font-weight="bold" text-anchor="middle" stroke="#fff" stroke-width="0.18" textLength="14.5" lengthAdjust="spacingAndGlyphs" >6hr</text>
<text x="190.3" y="199.1" font-size="9.8" fill="#fff" font-weight="bold" text-anchor="middle" stroke="#fff" stroke-width="0.18" textLength="19.8" lengthAdjust="spacingAndGlyphs" >24hr</text>
<path d="M63.7 220.0V219.2Q63.7 217.6 65.3 217.6H114.80000000000001Q116.4 217.6 116.4 219.2V220.0" fill="none" stroke="#141414" stroke-width="1.35"/>
<text x="89.9" y="214.6" font-size="8.0" fill="#2a2a2a" font-weight="normal" text-anchor="middle" textLength="9.6" lengthAdjust="spacingAndGlyphs" >NS</text>
<path d="M63.7 233.5V232.7Q63.7 231.1 65.3 231.1H88.4Q90.0 231.1 90.0 232.7V233.5" fill="none" stroke="#141414" stroke-width="1.35"/>
<text x="77.8" y="233.2" font-size="11.5" fill="#222" font-weight="normal" text-anchor="middle" stroke="#222" stroke-width="0.2">**</text>
<path d="M90.2 227.8V227.0Q90.2 225.4 91.8 225.4H114.80000000000001Q116.4 225.4 116.4 227.0V227.8" fill="none" stroke="#141414" stroke-width="1.35"/>
<text x="104.3" y="226.6" font-size="11.5" fill="#222" font-weight="normal" text-anchor="middle" stroke="#222" stroke-width="0.2">**</text>
<path d="M164.5 216.8V216.0Q164.5 214.4 166.1 214.4H216.0Q217.6 214.4 217.6 216.0V216.8" fill="none" stroke="#141414" stroke-width="1.35"/>
<text x="190.8" y="212.0" font-size="8.0" fill="#2a2a2a" font-weight="normal" text-anchor="middle" textLength="9.4" lengthAdjust="spacingAndGlyphs" >NS</text>
<path d="M191.4 224.1V223.29999999999998Q191.4 221.7 193.0 221.7H216.0Q217.6 221.7 217.6 223.29999999999998V224.1" fill="none" stroke="#141414" stroke-width="1.35"/>
<text x="205.5" y="219.5" font-size="8.0" fill="#2a2a2a" font-weight="normal" text-anchor="middle" textLength="9.2" lengthAdjust="spacingAndGlyphs" >NS</text>
<text x="66.5" y="317.2" font-size="8.0" fill="#fff" font-weight="bold" text-anchor="end" stroke="#fff" stroke-width="0.18" textLength="12.8" lengthAdjust="spacingAndGlyphs" transform="rotate(-45 66.5 317.2)" >WT</text>
<text x="92.8" y="317.2" font-size="8.0" fill="#fff" font-weight="bold" text-anchor="end" stroke="#fff" stroke-width="0.18" textLength="25.4" lengthAdjust="spacingAndGlyphs" transform="rotate(-45 92.8 317.2)" >ΔggaR</text>
<text x="119.1" y="317.2" font-size="8.0" fill="#fff" font-weight="bold" text-anchor="end" stroke="#fff" stroke-width="0.18" textLength="56.2" lengthAdjust="spacingAndGlyphs" transform="rotate(-45 119.1 317.2)" >ΔggaR+pGgaR</text>
<text x="168.1" y="317.2" font-size="8.0" fill="#fff" font-weight="bold" text-anchor="end" stroke="#fff" stroke-width="0.18" textLength="12.8" lengthAdjust="spacingAndGlyphs" transform="rotate(-45 168.1 317.2)" >WT</text>
<text x="195.4" y="317.2" font-size="8.0" fill="#fff" font-weight="bold" text-anchor="end" stroke="#fff" stroke-width="0.18" textLength="25.4" lengthAdjust="spacingAndGlyphs" transform="rotate(-45 195.4 317.2)" >ΔggaR</text>
<text x="222.7" y="317.2" font-size="8.0" fill="#fff" font-weight="bold" text-anchor="end" stroke="#fff" stroke-width="0.18" textLength="56.2" lengthAdjust="spacingAndGlyphs" transform="rotate(-45 222.7 317.2)" >ΔggaR+pGgaR</text>
<text x="14.3" y="264.3" font-size="9.7" fill="#fff" font-weight="bold" text-anchor="middle" stroke="#fff" stroke-width="0.18" textLength="106.5" lengthAdjust="spacingAndGlyphs" transform="rotate(-90 14.3 264.3)" >Glycogen/Protein Ratio</text>
<text x="27.4" y="263.6" font-size="9.7" fill="#fff" font-weight="bold" text-anchor="middle" stroke="#fff" stroke-width="0.18" textLength="34.5" lengthAdjust="spacingAndGlyphs" transform="rotate(-90 27.4 263.6)" >(ug/mg)</text>
<text x="392.6" y="199.5" font-size="9.8" fill="#fff" font-weight="bold" text-anchor="middle" stroke="#fff" stroke-width="0.18" textLength="14.5" lengthAdjust="spacingAndGlyphs" >6hr</text>
<rect x="289.5" y="201.4" width="57.3" height="18.1" fill="#0e72c4"/>
<text x="318.3" y="214.0" font-size="9.4" fill="#fff" font-weight="bold" text-anchor="middle" textLength="42.2" lengthAdjust="spacingAndGlyphs" stroke="#fff" stroke-width="0.45">Wild-type</text>
<rect x="440.8" y="201.3" width="56.9" height="17.8" fill="#fd0006"/>
<text x="469.0" y="213.9" font-size="8.8" fill="#fff" font-weight="bold" text-anchor="middle" font-style="italic" textLength="27.8" lengthAdjust="spacingAndGlyphs" stroke="#fff" stroke-width="0.35">ΔggaR</text>
<g clip-path="url(#clipL)">
<rect x="245" y="223" width="150" height="116" fill="url(#bgL)"/>
<ellipse cx="358" cy="337" rx="9" ry="5" fill="#9a9a9a" filter="url(#b1)"/>
<g filter="url(#cellF)">
<path d="M-21.7 0C-21.7 -13.76 -13.45 -22.2 0 -22.2C13.45 -22.2 21.7 -13.76 21.7 0C21.7 13.76 13.45 22.2 0 22.2C-13.45 22.2 -21.7 13.76 -21.7 0Z" fill="url(#cgL)" stroke="#7a7a7a" stroke-width="2.2" transform="translate(272.3 221) rotate(0)"/>
<path d="M-32.2 0C-32.2 -12.74 -22.54 -18.2 0 -18.2C22.54 -18.2 32.2 -12.74 32.2 0C32.2 12.74 22.54 18.2 0 18.2C-22.54 18.2 -32.2 12.74 -32.2 0Z" fill="url(#cgL)" stroke="#7a7a7a" stroke-width="2.2" transform="translate(323 228) rotate(35)"/>
<path d="M-24.2 0C-24.2 -15.00 -15.00 -24.2 0 -24.2C15.00 -24.2 24.2 -15.00 24.2 0C24.2 15.00 15.00 24.2 0 24.2C-15.00 24.2 -24.2 15.00 -24.2 0Z" fill="url(#cgL)" stroke="#7a7a7a" stroke-width="2.2" transform="translate(381.5 231) rotate(0)"/>
<path d="M-16.4 0C-16.4 -8.88 -9.84 -14.8 0 -14.8C9.84 -14.8 16.4 -8.88 16.4 0C16.4 8.88 9.84 14.8 0 14.8C-9.84 14.8 -16.4 8.88 -16.4 0Z" fill="url(#cgLd)" stroke="#7a7a7a" stroke-width="2.2" transform="translate(267 260.6) rotate(22)"/>
<path d="M-15.6 0C-15.6 -12.36 -9.36 -20.6 0 -20.6C9.36 -20.6 15.6 -12.36 15.6 0C15.6 12.36 9.36 20.6 0 20.6C-9.36 20.6 -15.6 12.36 -15.6 0Z" fill="url(#cgL)" stroke="#7a7a7a" stroke-width="2.2" transform="translate(306.6 273.8) rotate(-5)"/>
<path d="M-31.2 0C-31.2 -13.60 -21.22 -20.0 0 -20.0C21.22 -20.0 31.2 -13.60 31.2 0C31.2 13.60 21.22 20.0 0 20.0C-21.22 20.0 -31.2 13.60 -31.2 0Z" fill="url(#cgLd)" stroke="#7a7a7a" stroke-width="2.2" transform="translate(259 301) rotate(23)"/>
<path d="M-20.2 0C-20.2 -10.56 -11.72 -18.2 0 -18.2C11.72 -18.2 20.2 -10.56 20.2 0C20.2 10.56 11.72 18.2 0 18.2C-11.72 18.2 -20.2 10.56 -20.2 0Z" fill="url(#cgL)" stroke="#7a7a7a" stroke-width="2.2" transform="translate(304.4 330.2) rotate(0)"/>
<path d="M-8.7 0C-8.7 -5.43 -4.87 -9.7 0 -9.7C4.87 -9.7 8.7 -5.43 8.7 0C8.7 5.43 4.87 9.7 0 9.7C-4.87 9.7 -8.7 5.43 -8.7 0Z" fill="url(#cgL)" stroke="#7a7a7a" stroke-width="2.2" transform="translate(390 334) rotate(0)"/>
<path d="M342.9 259.6C345.9 259.6 349.0 261.5 351.5 263.3C354.1 265.2 356.5 267.6 358.1 270.6C359.7 273.6 360.6 277.8 361.2 281.3C361.8 284.9 361.9 288.3 361.6 292.0C361.3 295.7 360.7 299.6 359.3 303.7C357.8 307.8 355.4 313.4 353.0 316.8C350.6 320.2 347.8 322.4 344.8 323.9C341.8 325.4 338.2 326.0 335.1 325.7C332.1 325.3 328.9 323.8 326.5 321.7C324.0 319.5 321.8 315.8 320.5 312.9C319.2 310.1 318.7 307.3 318.7 304.7C318.7 302.0 319.7 299.5 320.5 296.9C321.2 294.3 322.3 291.9 323.1 289.1C323.8 286.3 324.4 282.9 325.1 279.9C325.8 276.8 326.1 273.4 327.4 270.6C328.8 267.8 330.6 264.9 333.2 263.1C335.8 261.2 339.8 259.5 342.9 259.6Z" fill="url(#cgL)" stroke="#7a7a7a" stroke-width="2.2"/>
<path d="M393.5 257.8C390.6 256.0 388.1 258.8 385.8 259.6C383.4 260.3 381.4 261.2 379.4 262.5C377.4 263.7 375.2 265.5 373.6 267.0C372.0 268.6 371.0 270.1 369.7 272.0C368.5 273.9 366.9 276.0 365.9 278.2C364.9 280.4 364.2 282.6 364.0 285.0C363.7 287.5 364.0 290.1 364.3 292.8C364.7 295.5 365.1 298.4 366.1 301.0C367.1 303.5 368.4 306.0 370.3 308.0C372.2 309.9 375.2 312.0 377.6 312.6C380.0 313.3 382.5 312.6 384.8 311.8C387.1 311.1 388.8 309.9 391.6 307.9C394.3 305.8 399.3 305.8 401.2 299.6C403.1 293.4 404.4 277.4 403.1 270.4C401.9 263.5 396.4 259.6 393.5 257.8Z" fill="url(#cgL)" stroke="#7a7a7a" stroke-width="2.2"/>
</g>
<rect x="245" y="223" width="150" height="116" fill="#fff" filter="url(#grain)"/>
<rect x="245" y="223" width="150" height="116" fill="url(#vigL)"/>
<rect x="245" y="223" width="150" height="116" fill="url(#vigBL)"/>
<rect x="245" y="223" width="150" height="116" fill="url(#vigB)"/>
</g>
<rect x="396.8" y="223.2" width="145.2" height="115" fill="#0c0c0c"/>
<g clip-path="url(#clipR)">
<rect x="397" y="223" width="145" height="116" fill="#f8f8f8"/>
<g filter="url(#cellF2)">
<path d="M-40.2 0C-40.2 -12.04 -28.14 -17.2 0 -17.2C28.14 -17.2 40.2 -12.04 40.2 0C40.2 12.04 28.14 17.2 0 17.2C-28.14 17.2 -40.2 12.04 -40.2 0Z" fill="url(#cgR)" stroke="#636363" stroke-width="1.7" transform="translate(439 221.5) rotate(2)"/>
<path d="M-16.7 0C-16.7 -18.72 -10.35 -30.2 0 -30.2C10.35 -30.2 16.7 -18.72 16.7 0C16.7 18.72 10.35 30.2 0 30.2C-10.35 30.2 -16.7 18.72 -16.7 0Z" fill="url(#cgR)" stroke="#636363" stroke-width="1.7" transform="translate(396.5 261) rotate(-6)"/>
<path d="M-21.5 0C-21.5 -19.44 -12.90 -32.4 0 -32.4C12.90 -32.4 21.5 -19.44 21.5 0C21.5 19.44 12.90 32.4 0 32.4C-12.90 32.4 -21.5 19.44 -21.5 0Z" fill="url(#cgR)" stroke="#636363" stroke-width="1.7" transform="translate(447.4 276.9) rotate(-42)"/>
<path d="M-18.2 0C-18.2 -14.69 -11.28 -23.7 0 -23.7C11.28 -23.7 18.2 -14.69 18.2 0C18.2 14.69 11.28 23.7 0 23.7C-11.28 23.7 -18.2 14.69 -18.2 0Z" fill="url(#cgR)" stroke="#636363" stroke-width="1.7" transform="translate(504.3 248.5) rotate(22)"/>
<path d="M-17.7 0C-17.7 -9.69 -10.27 -16.7 0 -16.7C10.27 -16.7 17.7 -9.69 17.7 0C17.7 9.69 10.27 16.7 0 16.7C-10.27 16.7 -17.7 9.69 -17.7 0Z" fill="url(#cgR)" stroke="#636363" stroke-width="1.7" transform="translate(536 300.5) rotate(0)"/>
<path d="M-40.7 0C-40.7 -13.45 -25.23 -21.7 0 -21.7C25.23 -21.7 40.7 -13.45 40.7 0C40.7 13.45 25.23 21.7 0 21.7C-25.23 21.7 -40.7 13.45 -40.7 0Z" fill="url(#cgR)" stroke="#636363" stroke-width="1.7" transform="translate(485 327.8) rotate(0)"/>
<path d="M-4.7 0C-4.7 -4.03 -2.63 -7.2 0 -7.2C2.63 -7.2 4.7 -4.03 4.7 0C4.7 4.03 2.63 7.2 0 7.2C-2.63 7.2 -4.7 4.03 -4.7 0Z" fill="url(#cgR)" stroke="#636363" stroke-width="1.7" transform="translate(543.2 251) rotate(0)"/>
</g>
<rect x="397" y="223" width="145" height="116" fill="#fff" filter="url(#grain)"/>
<g filter="url(#b1)" fill="#f0f0f0" opacity="0.55"><ellipse cx="437" cy="268" rx="7" ry="9" transform="rotate(-40 437 268)"/><ellipse cx="506" cy="246" rx="6" ry="8" transform="rotate(20 506 246)"/><ellipse cx="478" cy="326" rx="22" ry="7"/><ellipse cx="400" cy="262" rx="5" ry="14"/></g>
<g filter="url(#b1)" fill="#ececec"><ellipse cx="462" cy="292" rx="8" ry="12.5" transform="rotate(-38 462 292)"/><ellipse cx="534" cy="302.5" rx="7.5" ry="9"/><ellipse cx="500" cy="266" rx="6" ry="3.4"/></g>
<g fill="#2a2a2a">
<circle cx="468.0" cy="299.0" r="1.02"/>
<circle cx="454.6" cy="290.2" r="0.84"/>
<circle cx="468.0" cy="288.5" r="0.96"/>
<circle cx="470.2" cy="301.3" r="1.08"/>
<circle cx="459.6" cy="284.5" r="1.18"/>
<circle cx="469.7" cy="296.2" r="1.32"/>
<circle cx="456.0" cy="294.7" r="1.20"/>
<circle cx="469.4" cy="291.7" r="1.15"/>
<circle cx="463.0" cy="293.9" r="1.32"/>
<circle cx="458.2" cy="297.3" r="1.33"/>
<circle cx="453.5" cy="283.8" r="1.04"/>
<circle cx="458.4" cy="284.8" r="1.36"/>
<circle cx="461.7" cy="288.8" r="0.88"/>
<circle cx="470.6" cy="300.5" r="1.06"/>
<circle cx="456.7" cy="289.9" r="1.10"/>
<circle cx="462.4" cy="297.9" r="1.15"/>
<circle cx="453.5" cy="291.1" r="1.21"/>
<circle cx="463.9" cy="284.2" r="1.39"/>
<circle cx="458.1" cy="289.4" r="1.32"/>
<circle cx="465.9" cy="285.6" r="1.14"/>
<circle cx="457.9" cy="288.1" r="1.30"/>
<circle cx="457.3" cy="291.9" r="0.84"/>
<circle cx="459.5" cy="281.4" r="0.85"/>
<circle cx="458.5" cy="285.1" r="0.89"/>
<circle cx="467.1" cy="301.4" r="1.32"/>
<circle cx="468.1" cy="290.6" r="0.83"/>
<circle cx="457.0" cy="287.0" r="1.33"/>
<circle cx="465.5" cy="287.9" r="1.40"/>
<circle cx="463.4" cy="295.0" r="1.16"/>
<circle cx="465.2" cy="290.8" r="1.04"/>
<circle cx="531.7" cy="300.2" r="0.83"/>
<circle cx="536.8" cy="298.8" r="1.38"/>
<circle cx="537.7" cy="299.2" r="1.08"/>
<circle cx="528.0" cy="301.6" r="1.16"/>
<circle cx="528.5" cy="299.9" r="1.36"/>
<circle cx="529.1" cy="302.2" r="1.23"/>
<circle cx="534.3" cy="307.4" r="1.39"/>
<circle cx="528.5" cy="301.6" r="0.81"/>
<circle cx="529.1" cy="306.0" r="0.81"/>
<circle cx="529.5" cy="297.7" r="0.84"/>
<circle cx="530.4" cy="298.1" r="1.21"/>
<circle cx="530.2" cy="308.5" r="1.24"/>
<circle cx="535.8" cy="302.8" r="1.21"/>
<circle cx="537.7" cy="301.5" r="1.07"/>
<circle cx="530.5" cy="299.7" r="1.02"/>
<circle cx="532.3" cy="307.5" r="1.16"/>
<circle cx="532.6" cy="307.8" r="1.26"/>
<circle cx="539.6" cy="303.6" r="1.24"/>
<circle cx="498.4" cy="267.3" r="1.28"/>
<circle cx="499.7" cy="267.3" r="1.06"/>
<circle cx="498.8" cy="265.1" r="0.99"/>
<circle cx="496.5" cy="268.4" r="1.06"/>
<circle cx="501.1" cy="265.0" r="1.00"/>
<circle cx="495.9" cy="263.7" r="1.07"/>
<circle cx="499.9" cy="267.0" r="1.12"/>
<circle cx="501.6" cy="268.5" r="1.30"/>
<circle cx="500.9" cy="267.4" r="1.28"/>
<circle cx="410.7" cy="224.8" r="1.01"/>
<circle cx="416.2" cy="231.5" r="1.28"/>
<circle cx="412.6" cy="231.0" r="1.05"/>
<circle cx="409.4" cy="228.6" r="1.35"/>
<circle cx="414.2" cy="229.3" r="1.37"/>
<circle cx="420.4" cy="228.4" r="1.06"/>
</g>
</g>
<path d="M0 0L-2.9 -2.4V-1.45H-7.0V1.45H-2.9V2.4Z" fill="#0c0c0c" transform="translate(256.8 248.8) rotate(48)"/>
<path d="M0 0L-2.9 -2.4V-1.45H-7.0V1.45H-2.9V2.4Z" fill="#0c0c0c" transform="translate(318.4 244.6) rotate(-76)"/>
<path d="M0 0L-2.9 -2.4V-1.45H-7.0V1.45H-2.9V2.4Z" fill="#0c0c0c" transform="translate(302.7 295.0) rotate(-73)"/>
<path d="M0 0L-2.9 -2.4V-1.45H-7.0V1.45H-2.9V2.4Z" fill="#0c0c0c" transform="translate(348.0 321.0) rotate(-158)"/>
<path d="M0 0L-2.9 -2.4V-1.45H-7.0V1.45H-2.9V2.4Z" fill="#0c0c0c" transform="translate(418.0 238.6) rotate(-111)"/>
<path d="M0 0L-2.9 -2.4V-1.45H-7.0V1.45H-2.9V2.4Z" fill="#0c0c0c" transform="translate(491.8 270.9) rotate(-68)"/>
<path d="M0 0L-2.9 -2.4V-1.45H-7.0V1.45H-2.9V2.4Z" fill="#0c0c0c" transform="translate(472.4 293.3) rotate(180)"/>
<path d="M0 0L-2.9 -2.4V-1.45H-7.0V1.45H-2.9V2.4Z" fill="#0c0c0c" transform="translate(522.4 309.3) rotate(0)"/>
<text x="260.2" y="331.0" font-size="6.6" fill="#151515" font-weight="bold" text-anchor="middle" stroke="#e8e8e8" stroke-width="0.9" paint-order="stroke">0.5 µm</text>
<rect x="249.6" y="332.2" width="21" height="2.2" fill="#151515" stroke="#e0e0e0" stroke-width="0.6"/>
<text x="409.3" y="331.0" font-size="5.3" fill="#222" font-weight="normal" text-anchor="middle" textLength="16" lengthAdjust="spacingAndGlyphs" >0.5 µm</text>
<rect x="401.3" y="333.0" width="24.7" height="1.3" fill="#111"/>
</svg></body></html>
